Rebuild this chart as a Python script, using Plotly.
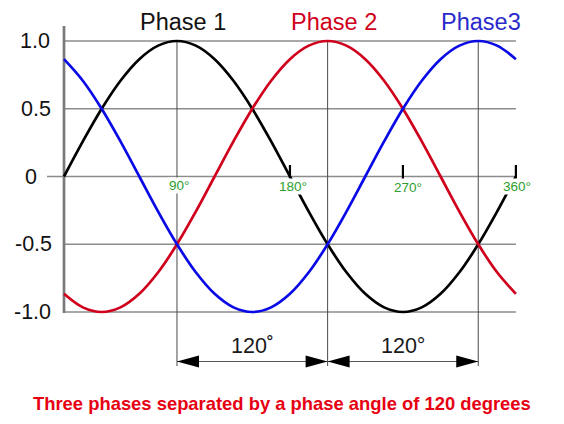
import plotly.graph_objects as go

# ---- data ----
angles = [0, 15, 30, 45, 60, 75, 90, 105, 120, 135, 150, 165, 180,
          195, 210, 225, 240, 255, 270, 285, 300, 315, 330, 345, 360]
phase1 = [0.0, 0.259, 0.5, 0.707, 0.866, 0.966, 1.0, 0.966, 0.866, 0.707, 0.5, 0.259, 0.0,
          -0.259, -0.5, -0.707, -0.866, -0.966, -1.0, -0.966, -0.866, -0.707, -0.5, -0.259, 0.0]
phase2 = [-0.866, -0.966, -1.0, -0.966, -0.866, -0.707, -0.5, -0.259, 0.0, 0.259, 0.5, 0.707, 0.866,
          0.966, 1.0, 0.966, 0.866, 0.707, 0.5, 0.259, 0.0, -0.259, -0.5, -0.707, -0.866]
phase3 = [0.866, 0.707, 0.5, 0.259, 0.0, -0.259, -0.5, -0.707, -0.866, -0.966, -1.0, -0.966, -0.866,
          -0.707, -0.5, -0.259, 0.0, 0.259, 0.5, 0.707, 0.866, 0.966, 1.0, 0.966, 0.866]
series_names = ["Phase 1", "Phase 2", "Phase3"]
series_colors = ["#000000", "#d0001c", "#0a0ae6"]
label_colors = ["#111111", "#d0001c", "#2a2acc"]
label_angles = [95, 215, 332]          # x (deg) centre of top labels
ytick_vals = [1.0, 0.5, 0, -0.5, -1.0]
ytick_text = ["1.0", "0.5", "0", "-0.5", "-1.0"]
deg_ticks = [90, 180, 270, 360]
deg_text = ["90°", "180°", "270°", "360°"]
peak_lines = [90, 210, 330]
sep_text = ["120˚", "120°"]
title_text = "Three phases separated by a phase angle of 120 degrees"

# ---- screen-pixel <-> data helpers (layout only) ----
OFF = 8                              # page body margin
X0PX, XSC = 64.0, 451.9 / 360.0      # screen px of 0 deg, px per degree
Y1PX, YSC = 41.0, 135.5              # screen px of value 1.0, px per unit
W, H = 564 - OFF, 424 - OFF
def dx(px): return (px - X0PX) / XSC
def dy(px): return 1.0 - (px - Y1PX) / YSC

FONT = "Liberation Sans, Arial, sans-serif"
fig = go.Figure()

shapes = []
# horizontal grid lines
for v in ytick_vals:
    x_start = dx(47) if v == 0 else 0
    shapes.append(dict(type="line", x0=x_start, x1=360, y0=v, y1=v,
                       line=dict(color="#8c8c8c", width=1.6), layer="below"))
# left axis
shapes.append(dict(type="line", x0=0, x1=0, y0=dy(26), y1=dy(313),
                   line=dict(color="#7a7a7a", width=2.7), layer="below"))
# vertical peak lines
for a in peak_lines:
    shapes.append(dict(type="line", x0=a, x1=a, y0=1.0, y1=dy(366),
                       line=dict(color="#4a4a4a", width=1), layer="below"))
# tick marks on zero line
for a in deg_ticks[1:]:
    shapes.append(dict(type="line", x0=a, x1=a, y0=dy(178.5), y1=dy(165),
                       line=dict(color="#000000", width=2.2)))
# dimension arrows
ya = dy(361.5)
hl = 22 / XSC
hh = 6 / YSC
for a0, a1 in zip(peak_lines[:-1], peak_lines[1:]):
    shapes.append(dict(type="line", x0=a0, x1=a1, y0=ya, y1=ya,
                       line=dict(color="#555555", width=1)))
    shapes.append(dict(type="path",
                       path=f"M {a0},{ya} L {a0+hl},{ya+hh} L {a0+hl},{ya-hh} Z",
                       fillcolor="#000000", line=dict(width=0)))
    shapes.append(dict(type="path",
                       path=f"M {a1},{ya} L {a1-hl},{ya+hh} L {a1-hl},{ya-hh} Z",
                       fillcolor="#000000", line=dict(width=0)))

for name, vals, col in zip(series_names, [phase1, phase2, phase3], series_colors):
    fig.add_trace(go.Scatter(x=angles, y=vals, mode="lines", name=name,
                             line=dict(color=col, width=2.7, shape="spline"),
                             showlegend=False, hoverinfo="skip"))

ann = []
# y tick labels
yl_right = {"1.0": 52, "0.5": 53, "0": 39, "-0.5": 54, "-1.0": 53}
for v, t in zip(ytick_vals, ytick_text):
    ann.append(dict(x=dx(yl_right[t]), y=v, text=t, xanchor="right", yanchor="middle",
                    showarrow=False, font=dict(family=FONT, size=21.5, color="#111111")))
# series labels
for a, t, c in zip(label_angles, series_names, label_colors):
    ann.append(dict(x=a, y=dy(22), text=t, xanchor="center", yanchor="middle",
                    showarrow=False, font=dict(family=FONT, size=23.5, color=c)))
# green degree labels (white background hides the lines behind them)
deg_px = [179, 293, 408, 517]
deg_py = [185.5, 186, 187, 186.5]
for px, py, t in zip(deg_px, deg_py, deg_text):
    ann.append(dict(x=dx(px), y=dy(py), text=t, xanchor="center", yanchor="middle",
                    showarrow=False, bgcolor="white", borderpad=0,
                    font=dict(family=FONT, size=13.5, color="#2e9e2e")))
# separation labels
for a0, a1, t in zip(peak_lines[:-1], peak_lines[1:], sep_text):
    ann.append(dict(x=(a0 + a1) / 2, y=dy(346), text=t, xanchor="center", yanchor="middle",
                    showarrow=False, font=dict(family=FONT, size=21.5, color="#1a1a1a")))
# title
ann.append(dict(x=dx(281.5), y=dy(403), text="<b>" + title_text + "</b>", xanchor="center",
                yanchor="middle", showarrow=False,
                font=dict(family=FONT, size=18.4, color="#e60012")))

fig.update_layout(
    width=W, height=H,
    margin=dict(l=0, r=0, t=0, b=0),
    paper_bgcolor="white", plot_bgcolor="white",
    xaxis=dict(range=[dx(OFF), dx(OFF + W)], visible=False, fixedrange=True),
    yaxis=dict(range=[dy(OFF + H), dy(OFF)], visible=False, fixedrange=True),
    shapes=shapes, annotations=ann,
)
fig.write_html("out.html")
